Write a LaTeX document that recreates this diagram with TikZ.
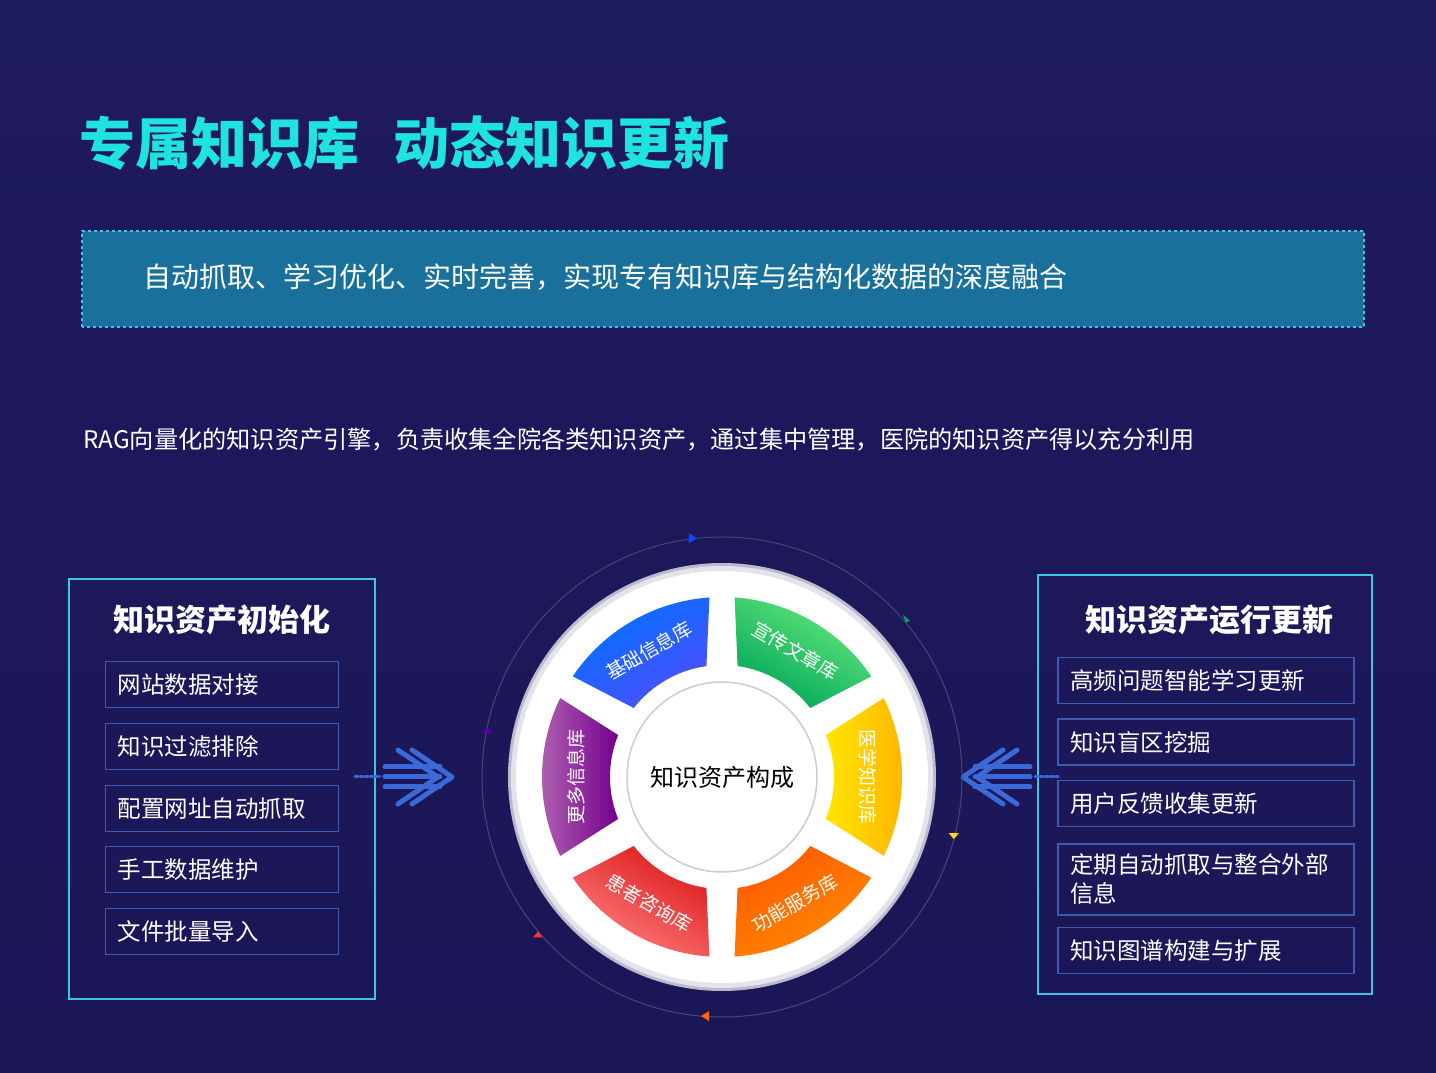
\documentclass[tikz,border=0pt]{standalone}
\usepackage{fontspec}
\setmainfont{Noto Sans CJK SC}
\usetikzlibrary{positioning}
\definecolor{bgdark}{HTML}{1B1656}
\definecolor{bgtop}{HTML}{1E1A5E}
\definecolor{cyantitle}{HTML}{1EE3E0}
\definecolor{bandfill}{HTML}{19709A}
\definecolor{boxline}{HTML}{3CC6E6}
\definecolor{itemline}{HTML}{3D5CB0}
\definecolor{arrowblue}{HTML}{3B6AD8}
\tikzset{
  panel/.style={draw=boxline,line width=1.5pt},
  item/.style={draw=itemline,line width=1.2pt,text=white,font=\fontsize{23.5}{28}\selectfont,
    minimum height=43pt,text width=#1,inner sep=12pt,align=left},
  paneltitle/.style={text=white,font=\bfseries\fontsize{31}{36}\selectfont},
  seglabel/.style={text=white,font=\fontsize{19}{22}\selectfont},
}
\newcommand{\wheelseg}[4]{% angle, color1, color2, label
  \shade[top color=#2,bottom color=#3,shading angle=#1-90]
    ({#1-26}:180) arc[start angle=#1-26,end angle=#1+26,radius=180]
    -- ({#1+22}:112) arc[start angle=#1+22,end angle=#1-22,radius=112] -- cycle;
}
\begin{document}
\begin{tikzpicture}[x=1pt,y=1pt]
\shade[top color=bgtop,bottom color=bgdark] (0,0) rectangle (1436,1072);

% title and intro
\node[anchor=west,text=cyantitle,font=\bfseries\fontsize{56}{60}\selectfont] (title) at (76,929) {专属知识库\hspace{0.6em}动态知识更新};
\draw[dashed,draw=boxline,fill=bandfill,line width=1.5pt] (82,745) rectangle (1364,841);
\node[anchor=west,text=white,font=\fontsize{28}{30}\selectfont] (band) at (140,795) {自动抓取、学习优化、实时完善，实现专有知识库与结构化数据的深度融合};
\node[anchor=west,text=white,font=\fontsize{24.2}{28}\selectfont] (intro) at (80,632) {RAG向量化的知识资产引擎，负责收集全院各类知识资产，通过集中管理，医院的知识资产得以充分利用};

% left panel
\draw[panel] (69,73) rectangle (375,493);
\node[paneltitle] (ltitle) at (222,452) {知识资产初始化};
\node[item=209pt] (l1) at (222,387.5) {网站数据对接};
\node[item=209pt] (l2) at (222,325.5) {知识过滤排除};
\node[item=209pt] (l3) at (222,263.5) {配置网址自动抓取};
\node[item=209pt] (l4) at (222,202.5) {手工数据维护};
\node[item=209pt] (l5) at (222,140.5) {文件批量导入};

% right panel
\draw[panel] (1038,78) rectangle (1372,497);
\node[paneltitle] (rtitle) at (1209,452) {知识资产运行更新};
\node[item=272pt] (r1) at (1206,391.5) {高频问题智能学习更新};
\node[item=272pt] (r2) at (1206,330) {知识盲区挖掘};
\node[item=272pt] (r3) at (1206,268.5) {用户反馈收集更新};
\node[item=272pt,minimum height=71pt,inner ysep=4pt,font=\fontsize{23.5}{29}\selectfont] (r4) at (1206,192.5) {定期自动抓取与整合外部\\信息};
\node[item=272pt] (r5) at (1206,121.5) {知识图谱构建与扩展};

% arrows
\begin{scope}[arrowblue,line width=5pt,line cap=round,line join=round]
  \foreach \dy in {-10,0,10} \draw (385,295+\dy) -- (440,295+\dy);
  \draw (412,322) -- (452,295) -- (412,268);
  \draw (398,322) -- (438,295) -- (398,268);
  \draw[dotted,line width=3pt] (355,295) -- (380,295);
  \foreach \dy in {-10,0,10} \draw (1030,295+\dy) -- (975,295+\dy);
  \draw (1003,322) -- (963,295) -- (1003,268);
  \draw (1017,322) -- (977,295) -- (1017,268);
  \draw[dotted,line width=3pt] (1035,295) -- (1058,295);
\end{scope}

% wheel
\begin{scope}[shift={(722,295)}]
  \draw[color=white!20!bgdark,line width=1pt] (0,0) circle[radius=240];
  \fill[white!70!bgdark] (0,0) circle[radius=214];
  \fill[white!88!bgdark] (0,0) circle[radius=211];
  \fill[white] (0,0) circle[radius=206];
  \wheelseg{120}{blue!55!cyan}{blue!70!white}{}
  \wheelseg{60}{green!70!teal!60!white}{teal!70!green}{}
  \wheelseg{0}{orange!60!yellow}{yellow!80!orange}{}
  \wheelseg{-60}{orange!90!yellow}{orange!70!red}{}
  \wheelseg{-120}{red!50!white}{red!85!black!90!white}{}
  \wheelseg{180}{violet!60!white}{violet!90!blue}{}
  \node[seglabel,rotate=30] (s1) at (120:146) {基础信息库};
  \node[seglabel,rotate=-30] (s2) at (60:146) {宣传文章库};
  \node[seglabel,rotate=-90] (s3) at (0:146) {医学知识库};
  \node[seglabel,rotate=30] (s4) at (-60:146) {功能服务库};
  \node[seglabel,rotate=-30] (s5) at (-120:146) {患者咨询库};
  \node[seglabel,rotate=90] (s6) at (180:146) {更多信息库};
  \draw[fill=white,draw=gray!40,line width=1.5pt] (0,0) circle[radius=95];
  \node[font=\fontsize{24}{28}\selectfont] (core) at (0,0) {知识资产构成};
  \fill[blue!70!cyan] (96:240) -- ++(-8,5) -- ++(0,-10) -- cycle;
  \fill[teal!70!green] (40:240) -- ++(-3,8) -- ++(7,-6) -- cycle;
  \fill[yellow!80!orange] (-15:240) -- ++(-5,6) -- ++(10,0) -- cycle;
  \fill[orange!80!red] (-95:240) -- ++(8,5) -- ++(0,-10) -- cycle;
  \fill[red!80!white] (-140:240) -- ++(-5,-6) -- ++(9,0) -- cycle;
  \fill[violet!70!blue] (168:240) -- ++(-5,-6) -- ++(10,0) -- cycle;
\end{scope}
\end{tikzpicture}
\end{document}
